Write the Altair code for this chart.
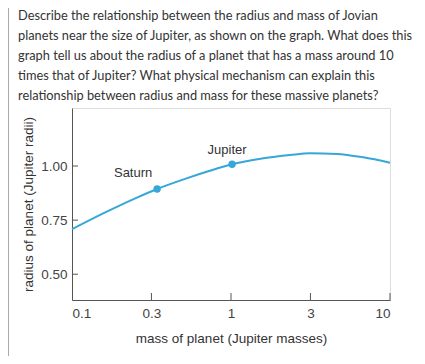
import altair as alt
import pandas as pd

# Curve
mass = [0.1, 0.157, 0.254, 0.343, 0.525, 0.736, 1.016, 1.6, 2.35, 3.14, 4.63, 6.8, 10.0]
radius = [0.708, 0.781, 0.853, 0.894, 0.943, 0.978, 1.008, 1.036, 1.051, 1.059, 1.056, 1.04, 1.015]

planets = ["Saturn", "Jupiter"]
planet_mass = [0.343, 1.016]
planet_radius = [0.894, 1.008]

x_ticks = [0.1, 0.316, 1, 3.16, 10]
x_tick_labels = ["0.1", "0.3", "1", "3", "10"]
y_ticks = [0.50, 0.75, 1.00]

question = [
    "Describe the relationship between the radius and mass of Jovian",
    "planets near the size of Jupiter, as shown on the graph. What does this",
    "graph tell us about the radius of a planet that has a mass around 10",
    "times that of Jupiter? What physical mechanism can explain this",
    "relationship between radius and mass for these massive planets?",
]

curve_df = pd.DataFrame({"mass": mass, "radius": radius})
pts_df = pd.DataFrame({"name": planets, "mass": planet_mass, "radius": planet_radius})
xt_df = pd.DataFrame({"mass": x_ticks[1:]})
yt_df = pd.DataFrame({"radius": y_ticks})

BLUE = "#35a7d8"
AX = "#555555"
LABEL_FONT = "Liberation Sans"

label_expr = " : ".join(
    [f"datum.value < {v * 1.05} ? '{l}'" for v, l in zip(x_ticks, x_tick_labels)]
) + " : ''"

xscale = alt.Scale(type="log", domain=[0.1, 10], nice=False)
yscale = alt.Scale(domain=[0.381, 1.268], nice=False, zero=False)

xaxis = alt.Axis(values=x_ticks, labelExpr=label_expr, ticks=False, tickSize=0,
                 grid=False, domainColor=AX, labelColor="#444", labelFont=LABEL_FONT,
                 labelFontSize=13.5, labelPadding=6, title="mass of planet (Jupiter masses)",
                 titleFont=LABEL_FONT, titleFontSize=13.5, titleFontWeight="normal",
                 titleColor="#333", titlePadding=12)
yaxis = alt.Axis(values=y_ticks, format=".2f", ticks=False, tickSize=0, grid=False,
                 domainColor=AX, labelColor="#444", labelFont=LABEL_FONT, labelFontSize=13.5,
                 labelPadding=5, title="radius of planet (Jupiter radii)",
                 titleFont=LABEL_FONT, titleFontSize=13.5, titleFontWeight="normal",
                 titleColor="#333", titlePadding=5)

line = alt.Chart(curve_df).mark_line(color=BLUE, strokeWidth=2, interpolate="monotone").encode(
    x=alt.X("mass:Q", scale=xscale, axis=xaxis),
    y=alt.Y("radius:Q", scale=yscale, axis=yaxis),
)

points = alt.Chart(pts_df).mark_circle(color=BLUE, opacity=1, size=55).encode(
    x=alt.X("mass:Q", scale=xscale), y=alt.Y("radius:Q", scale=yscale)
)

labels_s = alt.Chart(pts_df.iloc[[0]]).mark_text(
    font=LABEL_FONT, fontSize=13, color="#333", dx=-24, dy=-16
).encode(x=alt.X("mass:Q", scale=xscale), y=alt.Y("radius:Q", scale=yscale), text="name:N")
labels_j = alt.Chart(pts_df.iloc[[1]]).mark_text(
    font=LABEL_FONT, fontSize=13, color="#333", dx=-5, dy=-14
).encode(x=alt.X("mass:Q", scale=xscale), y=alt.Y("radius:Q", scale=yscale), text="name:N")

xticks = alt.Chart(xt_df).mark_rule(color=AX, strokeWidth=1).encode(
    x=alt.X("mass:Q", scale=xscale), y=alt.value(192), y2=alt.value(185)
)
yticks = alt.Chart(yt_df).mark_rule(color=AX, strokeWidth=1).encode(
    y=alt.Y("radius:Q", scale=yscale), x=alt.value(0), x2=alt.value(6)
)

border = alt.Chart(pd.DataFrame({"a": [0]})).mark_rule(color="#aaaaaa", strokeWidth=1).encode(
    x=alt.value(-63.5), y=alt.value(-100), y2=alt.value(248)
)

chart = alt.layer(line, points, labels_s, labels_j, xticks, yticks, border).properties(
    width=318,
    height=192,
    autosize=alt.AutoSizeParams(type="none"),
    padding={"left": 64, "top": 100, "right": 27, "bottom": 56},
    title=alt.TitleParams(
        text=question, anchor="start", frame="group", dx=-54, dy=105, offset=10,
        font="Lato", fontSize=12.8, fontWeight="normal", color="#333", lineHeight=20,
    ),
).configure_view(stroke=None).configure(background="white")

chart.save("out.html", embed_options={"renderer": "svg", "actions": False})
